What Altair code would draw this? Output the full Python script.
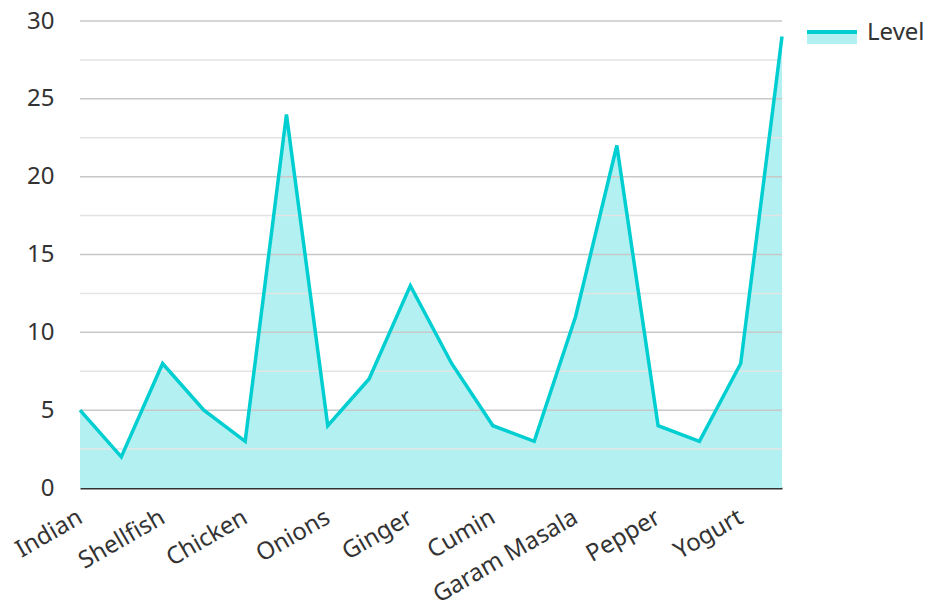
import altair as alt
import pandas as pd

categories = ["Indian", "Rice", "Shellfish", "Lamb", "Chicken", "Tomatoes",
              "Onions", "Garlic", "Ginger", "Turmeric", "Cumin", "Coriander",
              "Garam Masala", "Chili", "Pepper", "Cardamom", "Yogurt", "Ghee"]
levels = [5, 2, 8, 5, 3, 24, 4, 7, 13, 8, 4, 3, 11, 22, 4, 3, 8, 29]
major_ticks = [0, 5, 10, 15, 20, 25, 30]
minor_ticks = [2.5, 7.5, 12.5, 17.5, 22.5, 27.5]
series_name = "Level"

FONT = "Noto Sans"
LINE = "#00CED1"
FILL = "#B2F0F1"
TEXT = "#333333"
FS = 24

df = pd.DataFrame({"cat": categories, "level": levels})
shown = [c for i, c in enumerate(categories) if i % 2 == 0]
shown_js = "[" + ",".join("'" + c + "'" for c in shown) + "]"

x_enc = alt.X(
    "cat:N", sort=categories,
    scale=alt.Scale(type="point", padding=0),
    axis=alt.Axis(
        title=None, labelAngle=-30, labelAlign="right", labelBaseline="top",
        labelFontSize=FS, labelFont=FONT, labelColor=TEXT, labelPadding=17,
        labelOffset=-6,
        ticks=False, domainColor=TEXT, domainWidth=2, grid=False,
        labelOverlap=False,
        labelExpr="indexof(" + shown_js + ", datum.value) >= 0 ? datum.value : ''",
    ),
)
y_scale = alt.Scale(domain=[0, 30], nice=False)
y_axis = alt.Axis(
    title=None, values=major_ticks, grid=False, domain=False, ticks=False,
    labelFontSize=FS, labelFont=FONT, labelColor=TEXT, labelPadding=26,
)
y_enc = alt.Y("level:Q", scale=y_scale, axis=y_axis)

base = alt.Chart(df)
area = base.mark_area(color=FILL, opacity=1).encode(x=x_enc, y=y_enc)

minor = alt.Chart(pd.DataFrame({"level": minor_ticks})).mark_rule(
    color="#e4e4e4", strokeWidth=1.5
).encode(y=y_enc)
major = alt.Chart(pd.DataFrame({"level": major_ticks[1:]})).mark_rule(
    color="#c8c8c8", strokeWidth=1.5
).encode(y=y_enc)

line = base.mark_line(color=LINE, strokeWidth=3.5).encode(x=x_enc, y=y_enc)

leg_df = pd.DataFrame({"name": [series_name]})
leg_fill = alt.Chart(leg_df).mark_rect(color=FILL).encode(
    x=alt.value(727), x2=alt.value(777), y=alt.value(11), y2=alt.value(23))
leg_line = alt.Chart(leg_df).mark_rule(color=LINE, strokeWidth=4).encode(
    x=alt.value(727), x2=alt.value(777), y=alt.value(11))
leg_text = alt.Chart(leg_df).mark_text(
    align="left", baseline="middle", font=FONT, fontSize=FS, color=TEXT
).encode(text="name:N", x=alt.value(787), y=alt.value(12))

chart = alt.layer(area, minor, major, line, leg_fill, leg_line, leg_text).properties(
    width=702, height=467,
    autosize=alt.AutoSizeParams(type="none"),
    padding={"left": 80, "top": 21, "right": 144, "bottom": 117},
).configure(font=FONT, view=alt.ViewConfig(strokeWidth=0))

chart.save("out.html", embed_options={"renderer": "svg", "actions": False})
